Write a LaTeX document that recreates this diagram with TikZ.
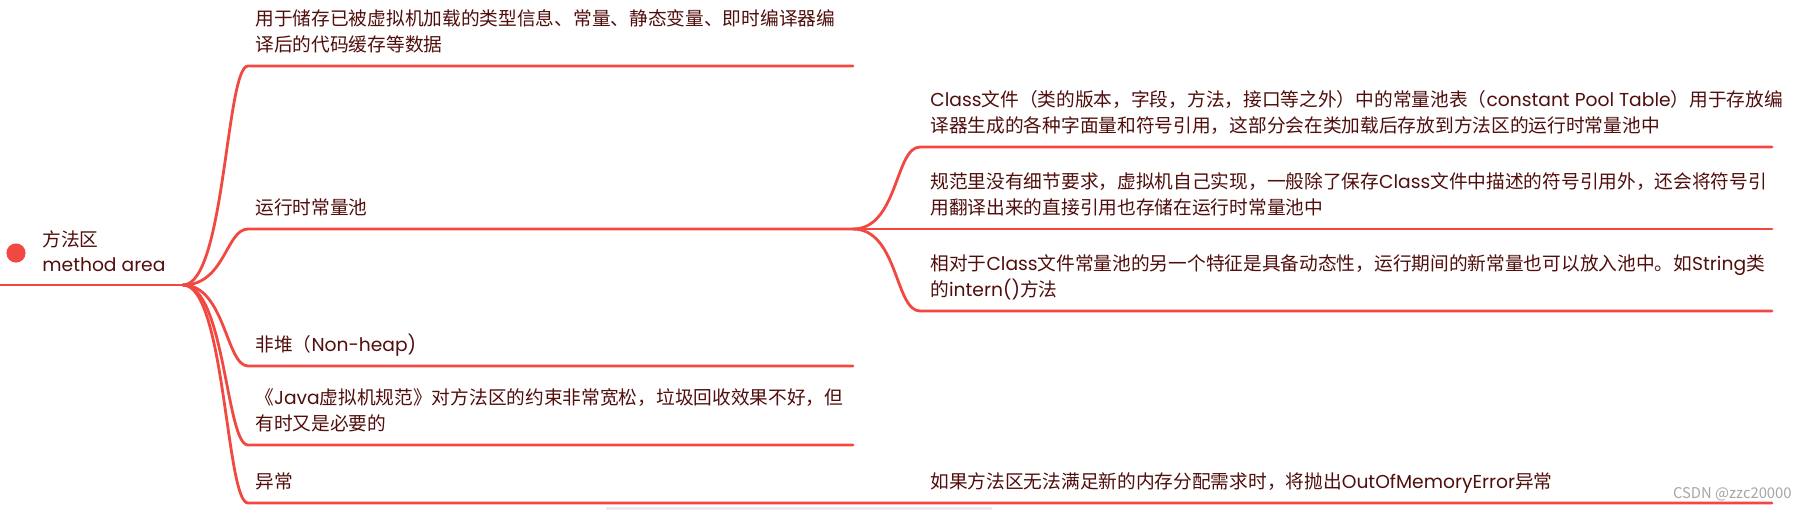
\documentclass[tikz,border=0pt]{standalone}
\usepackage{fontspec}
\setmainfont{Noto Sans CJK SC}
\newfontfamily\en{Poppins}
\usetikzlibrary{calc}
\definecolor{branchred}{RGB}{242,72,66}
\definecolor{notetext}{RGB}{80,14,12}
\begin{document}
\begin{tikzpicture}[x=0.5pt,y=-0.5pt,
  branch/.style={draw=branchred, line width=1.4pt, line cap=round},
  note/.style={anchor=south west, align=left, inner sep=0pt, text depth=2pt,
    text=notetext, font=\fontsize{9.35pt}{12.75pt}\selectfont},
  rootdot/.style={circle, fill=branchred, minimum size=9.6pt, inner sep=0pt},
  wmark/.style={anchor=east, inner sep=0pt, text=black!35,
    font=\fontsize{7.4pt}{9pt}\selectfont}]

\useasboundingbox (0,0) rectangle (1804,510);
\fill[white] (0,0) rectangle (1804,510);
\fill[black!8] (606,507) rectangle (992,510);

% root
\coordinate (in) at (0,285);
\coordinate (r) at (183,285);
\node[rootdot] (dot) at (16,253) {};
\node[note] (rl) at (42,276) {方法区\\{\en method area}};
\draw[branch] (in) -- (r);

% first level
\coordinate (a1) at (248,66);   \coordinate (a2) at (853,66);
\coordinate (b1) at (248,229);  \coordinate (b2) at (853,229);
\coordinate (c1) at (248,366);  \coordinate (c2) at (853,366);
\coordinate (d1) at (248,445);  \coordinate (d2) at (853,445);
\coordinate (e1) at (248,503);  \coordinate (e2) at (1772,503);
\draw[branch] (r) .. controls +(42,0) and +(-22,0) .. (a1) -- (a2);
\draw[branch] (r) .. controls +(42,0) and +(-22,0) .. (b1) -- (b2);
\draw[branch] (r) .. controls +(42,0) and +(-22,0) .. (c1) -- (c2);
\draw[branch] (r) .. controls +(42,0) and +(-22,0) .. (d1) -- (d2);
\draw[branch] (r) .. controls +(42,0) and +(-22,0) .. (e1) -- (e2);

\node[note] (ta) at ($(a1)+(7,-10.5)$) {用于储存已被虚拟机加载的类型信息、常量、静态变量、即时编译器编\\译后的代码缓存等数据};
\node[note] (tb) at ($(b1)+(7,-10.5)$) {运行时常量池};
\node[note] (tc) at ($(c1)+(7,-10.5)$) {非堆（{\en Non-heap)}};
\node[note] (td) at ($(d1)+(7,-10.5)$) {《{\en Java}虚拟机规范》对方法区的约束非常宽松，垃圾回收效果不好，但\\有时又是必要的};
\node[note] (te) at ($(e1)+(7,-10.5)$) {异常};

% second level
\coordinate (f1) at (920,147);  \coordinate (f2) at (1772,147);
\coordinate (g1) at (920,229);  \coordinate (g2) at (1772,229);
\coordinate (h1) at (920,311);  \coordinate (h2) at (1772,311);
\coordinate (k1) at (920,503);
\draw[branch] (b2) .. controls +(45,0) and +(-25,0) .. (f1) -- (f2);
\draw[branch] (b2) -- (g2);
\draw[branch] (b2) .. controls +(45,0) and +(-25,0) .. (h1) -- (h2);

\node[note] (tf) at ($(f1)+(10,-10.5)$) {{\en Class}文件（类的版本，字段，方法，接口等之外）中的常量池表（{\en constant Pool Table}）用于存放编\\译器生成的各种字面量和符号引用，这部分会在类加载后存放到方法区的运行时常量池中};
\node[note] (tg) at ($(g1)+(10,-10.5)$) {规范里没有细节要求，虚拟机自己实现，一般除了保存{\en Class}文件中描述的符号引用外，还会将符号引\\用翻译出来的直接引用也存储在运行时常量池中};
\node[note] (th) at ($(h1)+(10,-10.5)$) {相对于{\en Class}文件常量池的另一个特征是具备动态性，运行期间的新常量也可以放入池中。如{\en String}类\\的{\en intern()}方法};
\node[note] (tk) at ($(k1)+(10,-10.5)$) {如果方法区无法满足新的内存分配需求时，将抛出{\en OutOfMemoryError}异常};

\node[wmark] (wm) at (1792,494) {CSDN @zzc20000};

\end{tikzpicture}
\end{document}
